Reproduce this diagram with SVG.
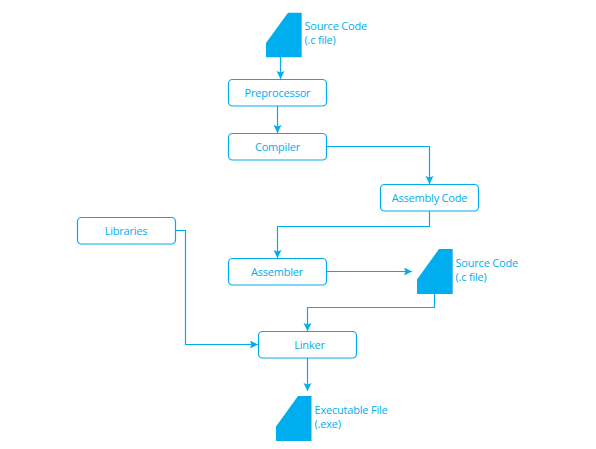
<svg xmlns="http://www.w3.org/2000/svg" width="596" height="449" viewBox="0 0 596 449">
<style>
.box{fill:#fff;stroke:#00aeef;stroke-width:1.2}
.doc{fill:#00aeef}
.c{fill:none;stroke:#00aeef;stroke-width:1.2}
text{font-family:"Open Sans","Noto Sans",sans-serif;font-size:11px;fill:#00aeef;letter-spacing:-.2px}
.m{text-anchor:middle}
</style>
<defs>
<marker id="a" markerUnits="userSpaceOnUse" markerWidth="9" markerHeight="9" refX="8" refY="4" orient="auto"><path d="M0 0L8 4L0 8L1.500 4Z" fill="#00aeef"/></marker>
</defs>
<rect width="596" height="449" fill="#fff"/>
<g id="connectors">
<path class="c" marker-end="url(#a)" d="M280.500 57V79"/>
<path class="c" marker-end="url(#a)" d="M277.500 106V133"/>
<path class="c" marker-end="url(#a)" d="M326 146.500H429.500V184"/>
<path class="c" marker-end="url(#a)" d="M429.500 211V226.500H277.500V258"/>
<path class="c" marker-end="url(#a)" d="M326 271.500H412"/>
<path class="c" marker-end="url(#a)" d="M434.500 294V307.500H307.500V331"/>
<path class="c" marker-end="url(#a)" d="M175.500 230.500H185.500V344.500H258"/>
<path class="c" marker-end="url(#a)" d="M307.500 358V391"/>
</g>
<g id="source1"><path class="doc" d="M266 43L288 12.700H301.700V57.300H266Z"/><text x="304.500" y="29.500">Source Code</text><text x="304.500" y="44">(.c file)</text></g>
<g id="preprocessor"><rect class="box" x="228.500" y="79.500" width="98" height="26.500" rx="4"/><text class="m" x="277.500" y="96.500">Preprocessor</text></g>
<g id="compiler"><rect class="box" x="228.500" y="133.500" width="98" height="26.500" rx="4"/><text class="m" x="277.500" y="150.500">Compiler</text></g>
<g id="assembly"><rect class="box" x="380.500" y="184.500" width="98" height="26.500" rx="4"/><text class="m" x="429.500" y="201.500">Assembly Code</text></g>
<g id="libraries"><rect class="box" x="77.500" y="217.500" width="98" height="26.500" rx="4"/><text class="m" x="126" y="234.500">Libraries</text></g>
<g id="assembler"><rect class="box" x="228.500" y="258.500" width="98" height="26.500" rx="4"/><text class="m" x="277" y="275.500">Assembler</text></g>
<g id="source2"><path class="doc" d="M417 279.500 439 249H452.700V294H417Z"/><text x="455.500" y="266.500">Source Code</text><text x="455.500" y="281">(.c file)</text></g>
<g id="linker"><rect class="box" x="258.500" y="331.500" width="98" height="26.500" rx="4"/><text class="m" x="309.500" y="348.500">Linker</text></g>
<g id="exe"><path class="doc" d="M276 426.500 298 396H311.500V441H276Z"/><text x="314.500" y="413.500">Executable File</text><text x="314.500" y="428">(.exe)</text></g>
</svg>
